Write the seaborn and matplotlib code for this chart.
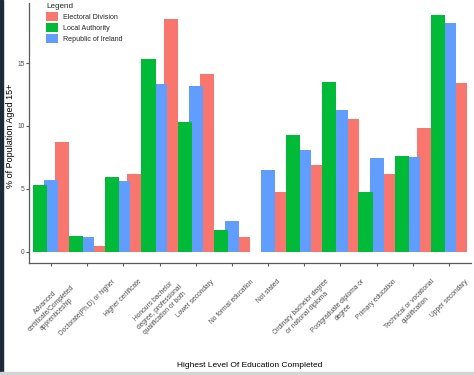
import matplotlib
matplotlib.use('Agg')
import matplotlib.pyplot as plt
from matplotlib.patches import Patch, Rectangle
import pandas as pd
import seaborn as sns

# Data (% of population aged 15+)
categories = [
    "Advanced certificate/Completed apprenticeship",
    "Doctorate(Ph.D) or higher",
    "Higher certificate",
    "Honours bachelor degree, professional qualification or both",
    "Lower secondary",
    "No formal education",
    "Not stated",
    "Ordinary bachelor degree or national diploma",
    "Postgraduate diploma or degree",
    "Primary education",
    "Technical or vocational qualification",
    "Upper secondary",
]
tick_labels = [
    "Advanced\ncertificate/Completed\napprenticeship",
    "Doctorate(Ph.D) or higher",
    "Higher certificate",
    "Honours bachelor\ndegree, professional\nqualification or both",
    "Lower secondary",
    "No formal education",
    "Not stated",
    "Ordinary bachelor degree\nor national diploma",
    "Postgraduate diploma or\ndegree",
    "Primary education",
    "Technical or vocational\nqualification",
    "Upper secondary",
]
electoral_division = [8.73, 0.40, 6.16, 18.49, 14.15, 1.13, 4.71, 6.88, 10.52, 6.16, 9.81, 13.44]
local_authority = [5.28, 1.27, 5.90, 15.33, 10.32, 1.71, 0.0, 9.28, 13.52, 4.76, 7.62, 18.86]
republic_of_ireland = [5.71, 1.16, 5.58, 13.36, 13.22, 2.43, 6.53, 8.09, 11.28, 7.46, 7.54, 18.22]

df = pd.DataFrame({
    "Education": categories,
    "Electoral Division": electoral_division,
    "Local Authority": local_authority,
    "Republic of Ireland": republic_of_ireland,
})
long_df = df.melt(id_vars="Education", var_name="Area", value_name="Percent")

colours = {"Electoral Division": "#F8766D", "Local Authority": "#00BA38",
           "Republic of Ireland": "#619CFF"}
bar_order = ["Local Authority", "Republic of Ireland", "Electoral Division"]
legend_order = ["Electoral Division", "Local Authority", "Republic of Ireland"]

sns.set_theme(style="white")
plt.rcParams['font.family'] = ['Liberation Sans', 'DejaVu Sans']

fig = plt.figure(figsize=(4.74, 3.75), dpi=100)
ax = fig.add_axes([29.3 / 474, 1 - 263.3 / 375, 441.4 / 474, 260.3 / 375])
sns.barplot(data=long_df, x="Education", y="Percent", hue="Area", order=categories,
            hue_order=bar_order, palette=colours, width=0.92, saturation=1,
            linewidth=0, errorbar=None, legend=False, ax=ax)

# bars overlap a little like in the original, green drawn on top
zorders = {"Local Authority": 3, "Republic of Ireland": 2, "Electoral Division": 1}
for level, container in zip(bar_order, ax.containers):
    for bar in container:
        cx = bar.get_x() + bar.get_width() / 2
        bar.set_width(0.39)
        bar.set_x(cx - 0.195)
        bar.set_zorder(zorders[level])

ax.set_xlim(-0.6, 11.6)
ax.set_ylim(-0.94, 19.8)
ax.set_yticks([0, 5, 10, 15])
ax.set_xticks(range(len(categories)))
ax.set_xticklabels(tick_labels, rotation=45, ha='center', va='top',
                   multialignment='center', linespacing=1.25)

sns.despine(ax=ax)
for side in ["left", "bottom"]:
    ax.spines[side].set_color("#5a5a5a")
    ax.spines[side].set_linewidth(0.9)
ax.tick_params(axis="both", bottom=True, left=True, direction="out", length=2.2,
               width=0.8, color="#555555", labelsize=4.8, labelcolor="#4d4d4d")
ax.tick_params(axis="x", pad=8.5)
ax.tick_params(axis="y", pad=1)

ax.set_xlabel("Highest Level Of Education Completed", fontsize=6, color="black")
ax.xaxis.set_label_coords(0.5, -0.391)
ax.xaxis.label.set_va("center")
ax.set_ylabel("% of Population Aged 15+", fontsize=6.5, color="black")
ax.yaxis.set_label_coords(-0.0437, 0.49)
ax.yaxis.label.set_va("center")

handles = [Patch(facecolor=colours[k], edgecolor="none", label=k) for k in legend_order]
ax.legend(handles=handles, title="Legend", loc="upper left",
          bbox_to_anchor=(46 / 474, 1 - 3 / 375), bbox_transform=fig.transFigure,
          frameon=False, fontsize=5.1, title_fontsize=5.9, handlelength=1.75,
          handleheight=1.66, labelspacing=0.23, handletextpad=0.71,
          borderpad=0, borderaxespad=0, alignment="left")

# screenshot edges
fig.patches.append(Rectangle((0, 0), 3 / 474, 1, transform=fig.transFigure,
                             color="#1f2a38", zorder=10))
fig.patches.append(Rectangle((0, 0), 1, 3 / 375, transform=fig.transFigure,
                             color="#d4d4d4", zorder=10))

plt.savefig("out.png", dpi=100)
plt.close()
